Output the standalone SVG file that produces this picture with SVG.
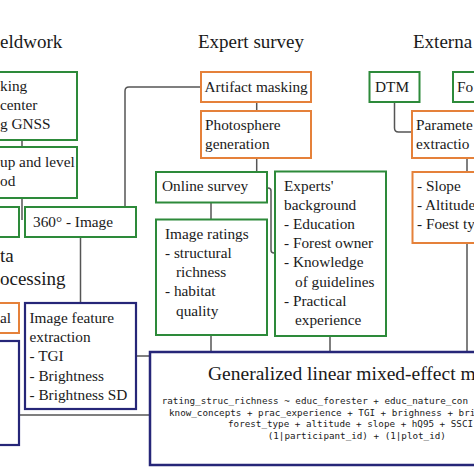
<svg xmlns="http://www.w3.org/2000/svg" width="474" height="474" viewBox="0 0 474 474">
<style>
  .g{fill:#fff;stroke:#2d8a3a;stroke-width:2}
  .o{fill:#fff;stroke:#e5813a;stroke-width:2}
  .b{fill:#fff;stroke:#262678;stroke-width:2.2}
  .t{font-family:"Liberation Serif","DejaVu Serif",serif;font-size:15.3px;fill:#1a1a1a}
  .h{font-family:"Liberation Serif","DejaVu Serif",serif;font-size:19px;fill:#1a1a1a}
  .m{font-family:"DejaVu Sans Mono","Liberation Mono",monospace;font-size:9.25px;fill:#1a1a1a}
  .c{fill:none;stroke:#555;stroke-width:1.5}
</style>
<rect width="474" height="474" fill="#fff"/>
<g id="headings">
  <text class="h" x="0" y="48">eldwork</text>
  <text class="h" x="198" y="48">Expert survey</text>
  <text class="h" x="413" y="48">Externa</text>
  <text class="h" x="0" y="262">ta</text>
  <text class="h" x="0" y="285">ocessing</text>
</g>
<g id="connectors">
  <path class="c" d="M22,140 V147"/>
  <path class="c" d="M22,198 V220"/>
  <path class="c" d="M125,207 V91 Q125,87 129,87 H201"/>
  <path class="c" d="M80.5,237 V303"/>
  <path class="c" d="M256.7,102 V111"/>
  <path class="c" d="M256.7,158 V172"/>
  <path class="c" d="M211,202.5 V219.5"/>
  <path class="c" d="M211,335 V352"/>
  <path class="c" d="M267,188 H268 Q271,188 271,191 V250 Q271,253 274,253 H275"/>
  <path class="c" d="M330,336 V352"/>
  <path class="c" d="M394.5,102 V128 Q394.5,132 398.5,132 H412"/>
  <path class="c" d="M467,158 V172"/>
  <path class="c" d="M467,243 V352"/>
  <path class="c" d="M136,356 H150"/>
  <path class="c" d="M19,415 H150"/>
</g>
<g id="fw-marking">
  <rect class="g" x="-60" y="72" width="137" height="68"/>
  <text class="t" x="0" y="91">king</text>
  <text class="t" x="0" y="110">center</text>
  <text class="t" x="0" y="129">g GNSS</text>
</g>
<g id="fw-setup">
  <rect class="g" x="-60" y="147" width="137" height="51"/>
  <text class="t" x="0" y="167">up and level</text>
  <text class="t" x="0" y="186">od</text>
</g>
<g id="fw-left">
  <rect class="g" x="-60" y="207" width="79" height="30"/>
</g>
<g id="img360">
  <rect class="g" x="25" y="207" width="111" height="30"/>
  <text class="t" x="33" y="226.5">360° - Image</text>
</g>
<g id="dp-orange">
  <rect class="o" x="-60" y="303" width="79" height="30"/>
  <text class="t" x="0" y="322.5">al</text>
</g>
<g id="dp-blue">
  <rect class="b" x="-60" y="341" width="79" height="104"/>
</g>
<g id="image-feature">
  <rect class="b" x="25" y="303" width="111" height="106"/>
  <text class="t" x="29.5" y="322.5">Image feature</text>
  <text class="t" x="29.5" y="342">extraction</text>
  <text class="t" x="29.5" y="361">- TGI</text>
  <text class="t" x="29.5" y="380.5">- Brightness</text>
  <text class="t" x="29.5" y="400">- Brightness SD</text>
</g>
<g id="artifact">
  <rect class="o" x="201" y="72" width="110" height="30"/>
  <text class="t" x="204.5" y="91.5">Artifact masking</text>
</g>
<g id="photosphere">
  <rect class="o" x="201" y="111" width="110" height="47"/>
  <text class="t" x="205" y="130">Photosphere</text>
  <text class="t" x="205" y="149">generation</text>
</g>
<g id="online-survey">
  <rect class="g" x="156" y="172" width="111" height="30.5"/>
  <text class="t" x="162" y="190.5">Online survey</text>
</g>
<g id="image-ratings">
  <rect class="g" x="156" y="219.5" width="111" height="115.5"/>
  <text class="t" x="165" y="238.5">Image ratings</text>
  <text class="t" x="165" y="257.5">- structural</text>
  <text class="t" x="176" y="277">richness</text>
  <text class="t" x="165" y="296">- habitat</text>
  <text class="t" x="176" y="315.5">quality</text>
</g>
<g id="experts-background">
  <rect class="g" x="275" y="171.5" width="111" height="164.5"/>
  <text class="t" x="284" y="190.5">Experts'</text>
  <text class="t" x="284" y="209.5">background</text>
  <text class="t" x="284" y="229">- Education</text>
  <text class="t" x="284" y="248">- Forest owner</text>
  <text class="t" x="284" y="267">- Knowledge</text>
  <text class="t" x="295" y="286.5">of guidelines</text>
  <text class="t" x="284" y="305.5">- Practical</text>
  <text class="t" x="295" y="325">experience</text>
</g>
<g id="dtm">
  <rect class="g" x="369.5" y="72" width="50" height="30"/>
  <text class="t" x="375" y="91.5">DTM</text>
</g>
<g id="fo">
  <rect class="g" x="453" y="72" width="60" height="30"/>
  <text class="t" x="457" y="91.5">Fo</text>
</g>
<g id="parameter">
  <rect class="o" x="412" y="111" width="100" height="47"/>
  <text class="t" x="416" y="130">Paramete</text>
  <text class="t" x="416" y="149">extractio</text>
</g>
<g id="slope">
  <rect class="o" x="412.5" y="172" width="100" height="71"/>
  <text class="t" x="417" y="190.5">- Slope</text>
  <text class="t" x="417" y="209.5">- Altitude</text>
  <text class="t" x="417" y="229">- Foest ty</text>
</g>
<g id="glmm">
  <rect class="b" x="150" y="352" width="400" height="113" style="stroke-width:2.5"/>
  <text x="208" y="380" style="font-family:'Liberation Serif','DejaVu Serif',serif;font-size:19.5px;fill:#1a1a1a">Generalized linear mixed-effect m</text>
  <text class="m" x="161.7" y="404">rating_struc_richness ~ educ_forester + educ_nature_con</text>
  <text class="m" x="169" y="415.5">know_concepts + prac_experience + TGI + brighness + bri</text>
  <text class="m" x="228" y="427">forest_type + altitude + slope + hQ95 + SSCI</text>
  <text class="m" x="267.7" y="438.5">(1|participant_id) + (1|plot_id)</text>
</g>
</svg>
